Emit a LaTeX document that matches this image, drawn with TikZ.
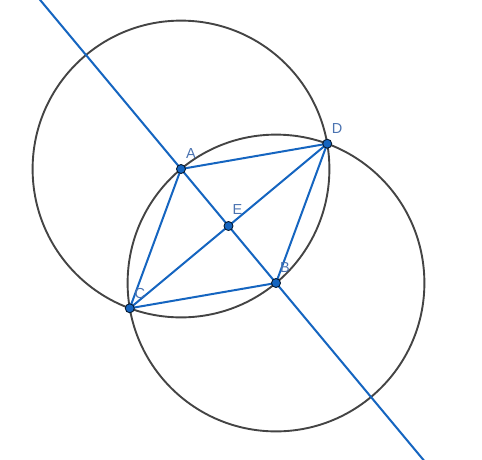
\documentclass[tikz,border=0pt]{standalone}
\usepackage{fontspec}
\setmainfont{Liberation Sans}
\usetikzlibrary{calc}
\definecolor{ggblue}{HTML}{1565C0}
\definecolor{gglabel}{HTML}{4A72B0}
\definecolor{ggcircle}{HTML}{444444}
\tikzset{
  geoline/.style={ggblue, line width=2pt},
  geocircle/.style={ggcircle, line width=1.9pt},
  geopoint/.style={circle, fill=ggblue, draw=black!75!ggblue, line width=0.9pt, inner sep=0pt, minimum size=9pt},
  geolabel/.style={text=gglabel, font=\fontsize{14.5}{14.5}\selectfont, inner sep=0pt}
}
\begin{document}
\begin{tikzpicture}[x=1pt,y=-1pt]
\useasboundingbox (0,0) rectangle (482,459);
\clip (0,0) rectangle (482,459);
\coordinate (A) at (181,169);
\coordinate (B) at (276,283);
\coordinate (E) at ($(A)!0.5!(B)$);
\coordinate (D) at ($(A)!1!60:(B)$);
\coordinate (C) at ($(A)!1!-60:(B)$);
\coordinate (L1) at ($(A)!-1.5!(B)$);
\coordinate (L2) at ($(A)!2.6!(B)$);
% circles
\draw[geocircle] let \p1=($(B)-(A)$), \n1={veclen(\x1,\y1)} in (A) circle[radius=\n1];
\draw[geocircle] let \p1=($(B)-(A)$), \n1={veclen(\x1,\y1)} in (B) circle[radius=\n1];
% line AB
\draw[geoline] (L1) -- (L2);
% segments
\draw[geoline] (A) -- (D) -- (B) -- (C) -- (A);
\draw[geoline] (C) -- (D);
% points
\node[geopoint] (nA) at (A) {};
\node[geopoint] (nB) at (B) {};
\node[geopoint] (nC) at (C) {};
\node[geopoint] (nD) at (D) {};
\node[geopoint] (nE) at (E) {};
% labels
\node[geolabel] (lA) at ($(A)+(10,-15)$) {A};
\node[geolabel] (lB) at ($(B)+(9,-15)$) {B};
\node[geolabel] (lC) at ($(C)+(10,-15)$) {C};
\node[geolabel] (lD) at ($(D)+(10,-15)$) {D};
\node[geolabel] (lE) at ($(E)+(9,-16)$) {E};
\end{tikzpicture}
\end{document}
